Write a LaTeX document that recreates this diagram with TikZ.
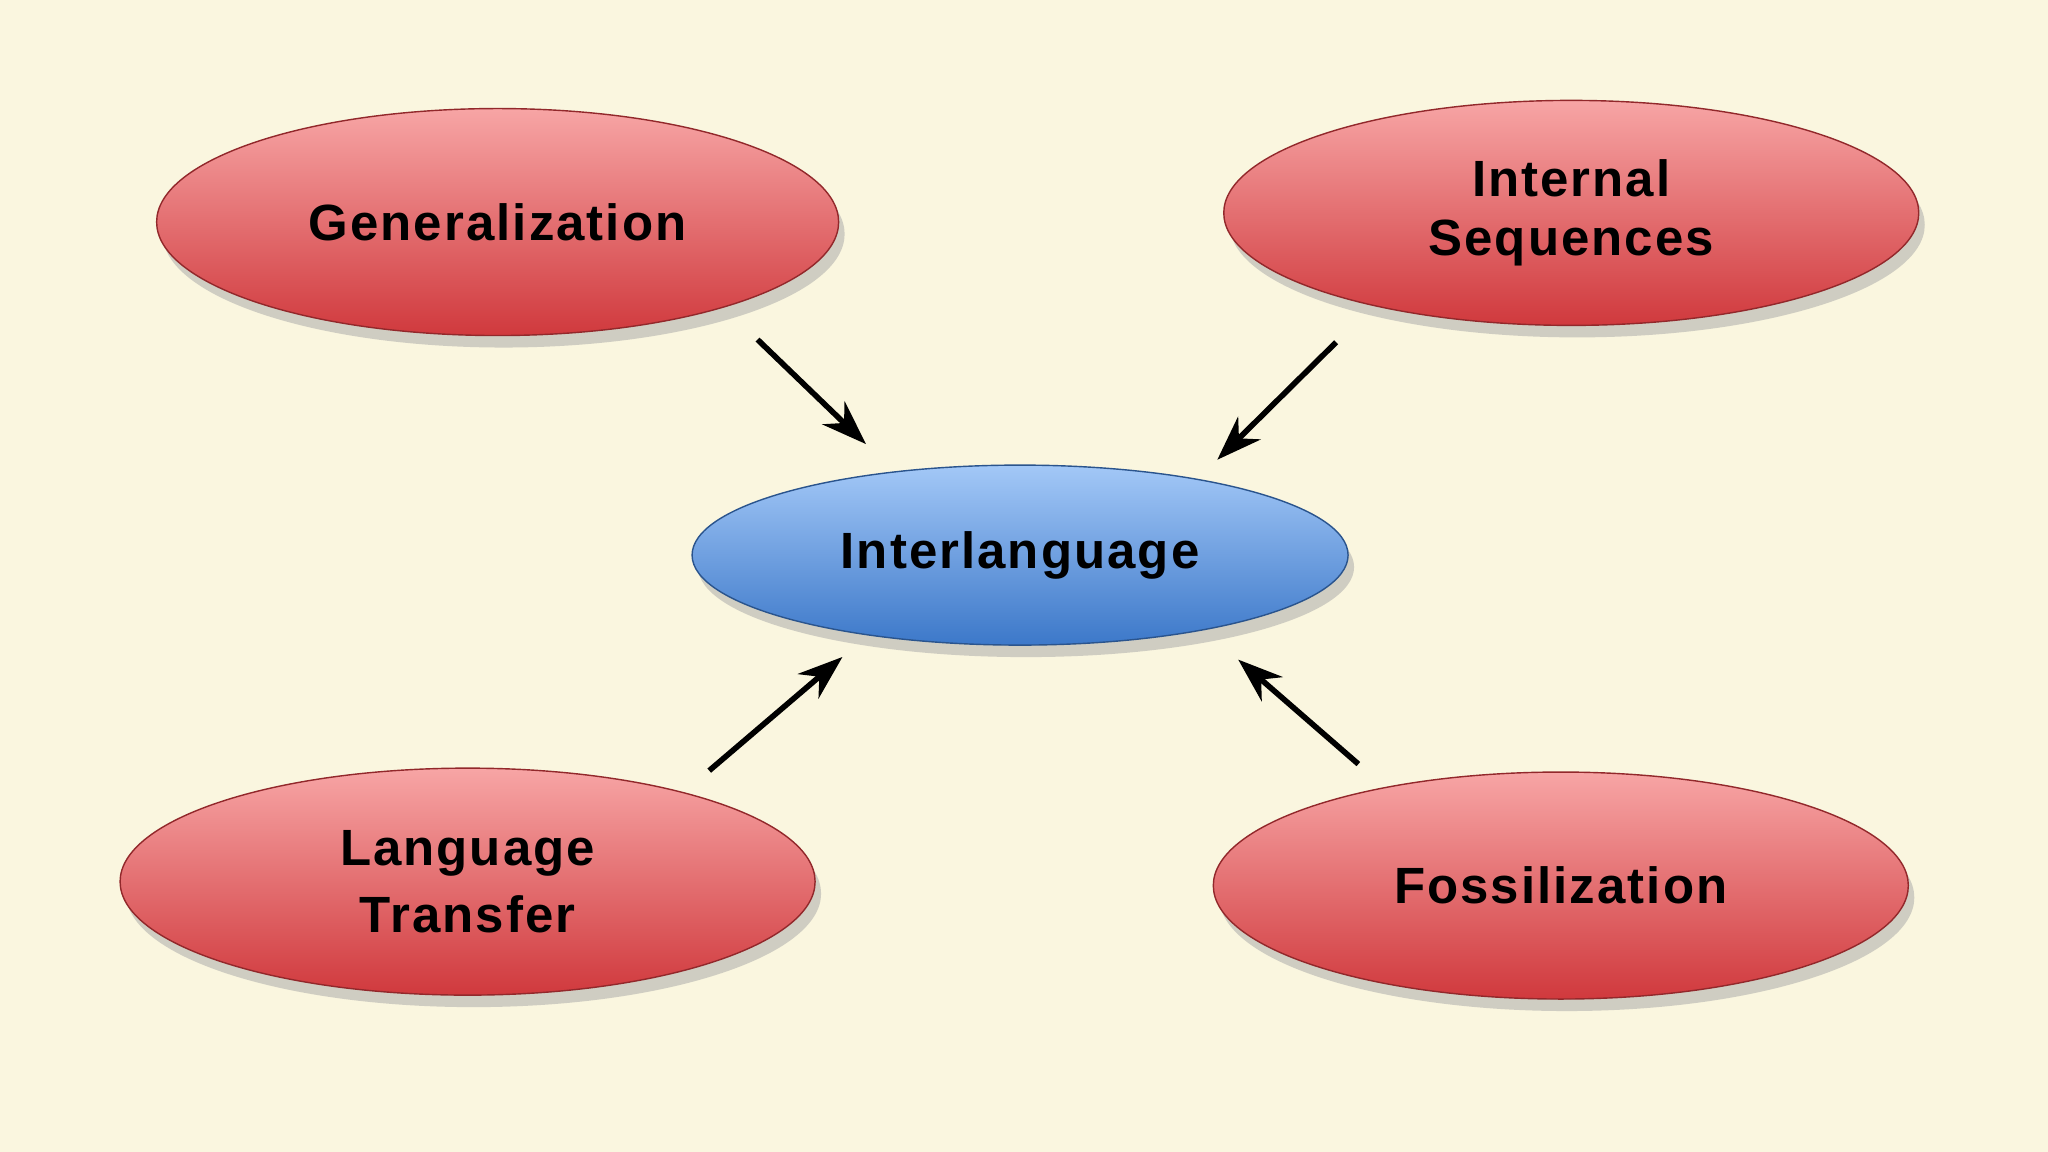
\documentclass[tikz,border=0pt]{standalone}
\usepackage{fontspec}
\setmainfont{Liberation Sans}[LetterSpace=4]
\usetikzlibrary{shapes.geometric,arrows.meta,shadows}
\definecolor{bg}{HTML}{FAF6DF}
\definecolor{rtop}{HTML}{F7A5A5}
\definecolor{rbot}{HTML}{D0393D}
\definecolor{btop}{HTML}{A3C8F7}
\definecolor{bbot}{HTML}{3C78C9}
\tikzset{
  oval/.style={ellipse, draw=#1!70!black, line width=0.4pt, align=center,
    font=\fontsize{14.5}{17}\selectfont\bfseries,
    drop shadow={shadow xshift=0.6mm, shadow yshift=-1.2mm, fill=black!35, opacity=0.5}},
  redoval/.style={oval=rbot, top color=rtop, bottom color=rbot},
  blueoval/.style={oval=bbot, top color=btop, bottom color=bbot},
  arr/.style={-{Stealth[length=4.5mm,width=3.2mm]}, line width=1.6pt, black}
}
\begin{document}
\begin{tikzpicture}[x=0.01306cm,y=-0.01306cm]
\useasboundingbox[fill=bg] (0,0) rectangle (1568,882);
\node[redoval, minimum width=6.82cm, minimum height=2.27cm] (gen) at (381,170) {Generalization};
\node[redoval, minimum width=6.95cm, minimum height=2.25cm] (int) at (1203,163) {Internal\\Sequences};
\node[blueoval, minimum width=6.56cm, minimum height=1.80cm] (il) at (781,425) {Interlanguage};
\node[redoval, minimum width=6.95cm, minimum height=2.27cm] (lt) at (358,675) {Language\\[0.15em]Transfer};
\node[redoval, minimum width=6.95cm, minimum height=2.27cm] (fos) at (1195,678) {Fossilization};
\coordinate (a1) at (580,260); \coordinate (b1) at (663,340);
\coordinate (a2) at (1023,262); \coordinate (b2) at (932,352);
\coordinate (a3) at (543,590); \coordinate (b3) at (645,503);
\coordinate (a4) at (1040,585); \coordinate (b4) at (948,505);
\draw[arr] (a1) -- (b1);
\draw[arr] (a2) -- (b2);
\draw[arr] (a3) -- (b3);
\draw[arr] (a4) -- (b4);
\end{tikzpicture}
\end{document}
